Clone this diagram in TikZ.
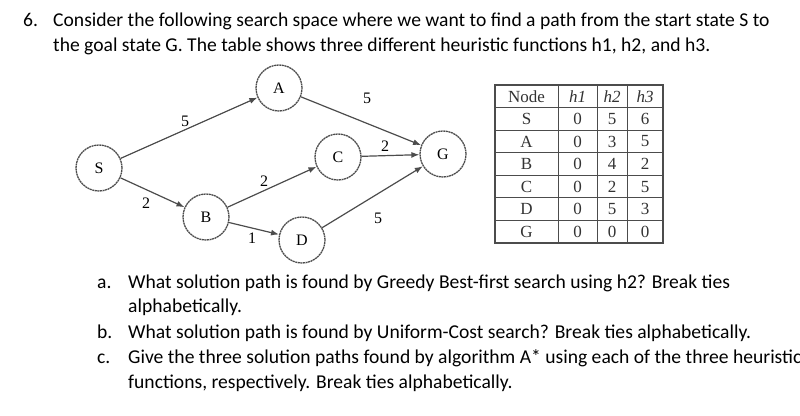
\documentclass[tikz,border=0pt]{standalone}
\usepackage{fontspec}
\setmainfont{Carlito}
\newfontfamily\ser{Liberation Serif}
\usetikzlibrary{arrows.meta}
\begin{document}
\begin{tikzpicture}[x=1pt,y=-1pt,
  st/.style={circle,draw=black!70,line width=1.3pt,dash pattern=on 2pt off 0.6pt,minimum size=46pt,inner sep=0pt,font=\ser\fontsize{16}{16}\selectfont},
  ed/.style={draw=black!70,line width=1.2pt,-{Latex[length=8pt,width=6pt]}},
  el/.style={font=\ser\fontsize{16}{16}\selectfont},
  tc/.style={font=\ser\fontsize{17}{17}\selectfont,text=black!80},
  tx/.style={anchor=base west,font=\fontsize{19.6}{22}\selectfont,inner sep=0pt}]
\useasboundingbox (0,0) rectangle (800,415);
\node[tx] (q1) at (23,26) {6.};
\node[tx] (q2) at (53,26) {Consider the following search space where we want to find a path from the start state S to};
\node[tx] (q3) at (53,51) {the goal state G. The table shows three different heuristic functions h1, h2, and h3.};
\node[st] (S) at (99,168) {S};
\node[st] (A) at (279,88) {A};
\node[st] (C) at (338,157) {C};
\node[st] (G) at (443,154) {G};
\node[st] (B) at (206,217) {B};
\node[st] (D) at (302,240) {D};
\draw[ed] (S) -- (A);
\draw[ed] (A) -- (G);
\draw[ed] (C) -- (G);
\draw[ed] (S) -- (B);
\draw[ed] (B) -- (C);
\draw[ed] (B) -- (D);
\draw[ed] (D) -- (G);
\node[el] (l1) at (185,121) {5};
\node[el] (l2) at (367,98) {5};
\node[el] (l3) at (385,146) {2};
\node[el] (l4) at (146,203) {2};
\node[el] (l5) at (264,181) {2};
\node[el] (l6) at (252,238) {1};
\node[el] (l7) at (378,218) {5};
% table
\draw[black!70,line width=1.4pt] (495,85) rectangle (663,243);
\foreach \y in {107.6,130.1,152.7,175.3,197.9,220.4} \draw[black!70,line width=1pt] (495,\y) -- (663,\y);
\foreach \x in {558,597,627} \draw[black!70,line width=1pt] (\x,85) -- (\x,243);
\foreach \r/\n/\a/\b/\c [count=\i] in {0/Node/\textit{h1}/\textit{h2}/\textit{h3},1/S/0/5/6,2/A/0/3/5,3/B/0/4/2,4/C/0/2/5,5/D/0/5/3,6/G/0/0/0}{
  \node[tc] (t\i a) at (526.5,96.3+22.6*\r) {\n};
  \node[tc] (t\i b) at (577.5,96.3+22.6*\r) {\a};
  \node[tc] (t\i c) at (612,96.3+22.6*\r) {\b};
  \node[tc] (t\i d) at (645,96.3+22.6*\r) {\c};
}
\node[tx] (a1) at (97,288) {a.};
\node[tx] (a2) at (128,288) {What solution path is found by Greedy Best-first search using h2? Break ties};
\node[tx] (a3) at (128,312) {alphabetically.};
\node[tx] (b1) at (97,338) {b.};
\node[tx] (b2) at (128,338) {What solution path is found by Uniform-Cost search? Break ties alphabetically.};
\node[tx] (c1) at (97,363) {c.};
\node[tx] (c2) at (128,363) {Give the three solution paths found by algorithm A* using each of the three heuristic};
\node[tx] (c3) at (128,388) {functions, respectively. Break ties alphabetically.};
\end{tikzpicture}
\end{document}
